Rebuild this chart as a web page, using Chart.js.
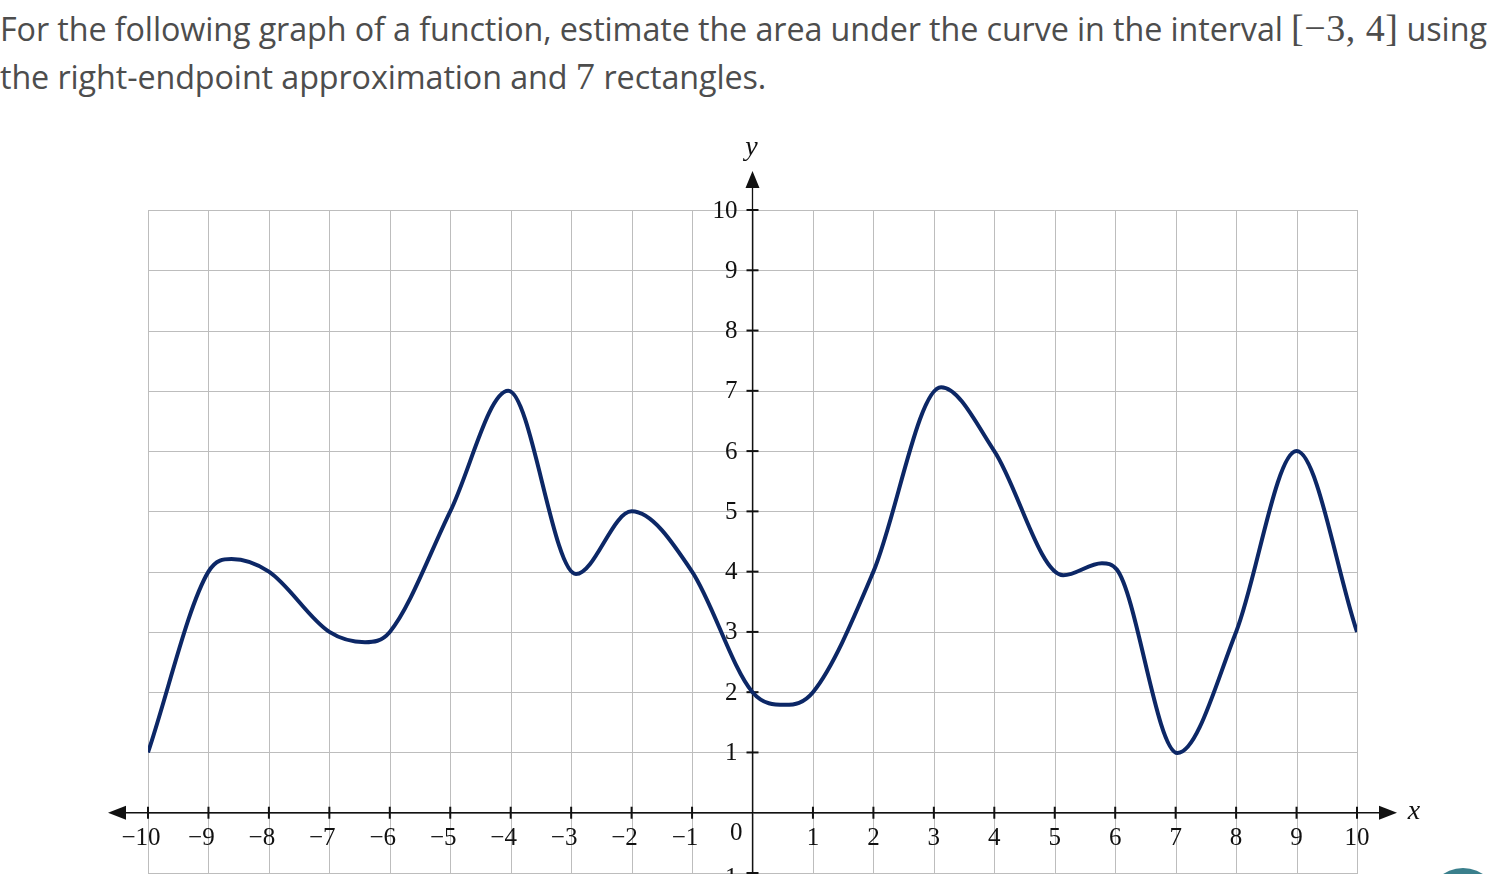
<!DOCTYPE html>
<html>
<head>
<meta charset="utf-8">
<script src="https://cdn.jsdelivr.net/npm/chart.js@4"></script>
<style>
body{margin:0;background:#fff;overflow:hidden;}
#wrap{position:absolute;left:0;top:0;width:1506px;height:874px;}
#q{position:absolute;left:0;top:4px;width:1506px;font-family:"Open Sans",sans-serif;font-size:32.3px;line-height:48px;color:#4d4d4d;white-space:nowrap;letter-spacing:-0.1px;}
#q .m{font-family:"Liberation Serif",serif;font-size:38px;letter-spacing:0.5px;line-height:20px;}
#bubble{position:absolute;left:1427px;top:868px;width:72px;height:72px;border-radius:50%;background:#3a7f8c;}
</style>
</head>
<body>
<div id="q">For the following graph of a function, estimate the area under the curve in the interval <span class="m">[−3, 4]</span> using<br>the right-endpoint approximation and <span class="m">7</span> rectangles.</div>
<div id="wrap"><canvas id="chart"></canvas></div>
<div id="bubble"></div>
<script>
// curve (x, y)
const xs=[-10,-9,-8.62,-8,-7,-6.41,-6,-5,-4.04,-2.92,-2,-1,0,0.54,1,2,3.12,4,5.14,5.78,6.03,7.03,8,9,10];
const ys=[1,4,4.21,4,3,2.83,3,5,7,3.96,5,4,2,1.79,2,4,7.06,6,3.94,4.14,4.03,0.99,3,6,3];

// axis tick labels
const xTicks=[-10,-9,-8,-7,-6,-5,-4,-3,-2,-1,1,2,3,4,5,6,7,8,9,10];
const yTicks=[-1,1,2,3,4,5,6,7,8,9,10];

const pts=xs.map((x,i)=>({x:x,y:ys[i]}));

const axesPlugin={
    id:"axes",
    beforeDatasetsDraw(chart){
        const ctx=chart.ctx;
        const sx=chart.scales.x, sy=chart.scales.y;
        const a=chart.chartArea;
        const x0=sx.getPixelForValue(0), y0=sy.getPixelForValue(0);
        ctx.save();

        // grid
        ctx.strokeStyle="#bdbdbd";
        ctx.lineWidth=1;
        for(let v=-10;v<=10;v++){
            const p=Math.round(sx.getPixelForValue(v))+0.5;
            ctx.beginPath();ctx.moveTo(p,a.top);ctx.lineTo(p,chart.height);ctx.stroke();
        }
        for(let v=-1;v<=10;v++){
            const p=Math.round(sy.getPixelForValue(v))+0.5;
            ctx.beginPath();ctx.moveTo(a.left,p);ctx.lineTo(a.right,p);ctx.stroke();
        }

        // axes
        ctx.strokeStyle="#111";
        ctx.fillStyle="#111";
        ctx.lineWidth=1.3;
        ctx.beginPath();ctx.moveTo(a.left-30,y0);ctx.lineTo(a.right+24,y0);ctx.stroke();
        ctx.beginPath();ctx.moveTo(x0,a.top-24);ctx.lineTo(x0,chart.height);ctx.stroke();

        // arrows
        ctx.beginPath();ctx.moveTo(a.left-40,y0);ctx.lineTo(a.left-22,y0-7);ctx.lineTo(a.left-22,y0+7);ctx.closePath();ctx.fill();
        ctx.beginPath();ctx.moveTo(a.right+40,y0);ctx.lineTo(a.right+22,y0-7);ctx.lineTo(a.right+22,y0+7);ctx.closePath();ctx.fill();
        ctx.beginPath();ctx.moveTo(x0,a.top-39);ctx.lineTo(x0-7,a.top-22);ctx.lineTo(x0+7,a.top-22);ctx.closePath();ctx.fill();

        // tick marks
        ctx.lineWidth=2;
        xTicks.forEach(v=>{
            const p=sx.getPixelForValue(v);
            ctx.beginPath();ctx.moveTo(p,y0-6);ctx.lineTo(p,y0+6);ctx.stroke();
        });
        yTicks.forEach(v=>{
            const p=sy.getPixelForValue(v);
            ctx.beginPath();ctx.moveTo(x0-6,p);ctx.lineTo(x0+6,p);ctx.stroke();
        });

        // labels
        ctx.font="25px 'Liberation Serif', serif";
        ctx.textBaseline="middle";
        const mw=ctx.measureText("−").width;
        xTicks.forEach(v=>{
            const p=sx.getPixelForValue(v);
            ctx.textAlign="center";
            if(v<0) ctx.fillText("−"+(-v),p-mw/2,y0+26);
            else ctx.fillText(String(v),p,y0+26);
        });
        ctx.textAlign="right";
        yTicks.forEach(v=>{
            const p=sy.getPixelForValue(v);
            if(v<0) ctx.fillText("−"+(-v),x0-15,p+5);
            else ctx.fillText(String(v),x0-15,p+1);
        });
        ctx.fillText("0",x0-10,y0+21);

        ctx.font="italic 28px 'Liberation Serif', serif";
        ctx.textAlign="center";
        ctx.fillText("x",a.right+57,y0-1);
        ctx.fillText("y",x0-1,a.top-62);
        ctx.restore();
    }
};

new Chart(document.getElementById("chart"),{
    type:"line",
    data:{
        datasets:[{
            data:pts,
            borderColor:"#0c2766",
            borderWidth:4,
            pointRadius:0,
            cubicInterpolationMode:"monotone",
            fill:false
        }]
    },
    options:{
        responsive:true,
        maintainAspectRatio:false,
        animation:false,
        events:[],
        layout:{padding:{left:148,right:149,top:210,bottom:1}},
        plugins:{legend:{display:false},tooltip:{enabled:false}},
        scales:{
            x:{type:"linear",min:-10,max:10,display:false},
            y:{type:"linear",min:-1,max:10,display:false}
        }
    },
    plugins:[axesPlugin]
});
</script>
</body>
</html>
